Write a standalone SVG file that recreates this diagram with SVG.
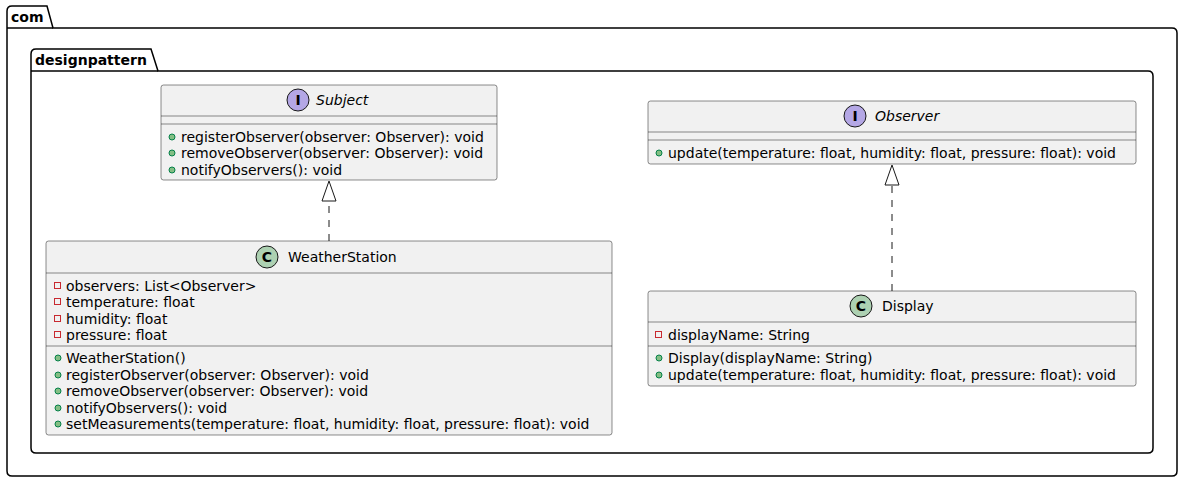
<svg xmlns="http://www.w3.org/2000/svg" width="1183" height="482" viewBox="0 0 1183 482">
<style>
text{font-family:"DejaVu Sans",sans-serif;font-size:14px;fill:#000}
.pk{fill:none;stroke:#000;stroke-width:1.5}
.pt{font-weight:bold;font-size:14px}
.box{fill:#F1F1F1;stroke:#181818;stroke-width:0.5}
.ln{stroke:#181818;stroke-width:0.5}
.ci{stroke:#181818;stroke-width:1}
.ci.i{fill:#B4A7E5}.ci.c{fill:#ADD1B2}
.cl{font-weight:bold;font-size:14px;text-anchor:middle}
.pub{fill:#84BE84;stroke:#038048;stroke-width:1}
.pri{fill:none;stroke:#C82930;stroke-width:1}
.edge{stroke:#181818;stroke-width:1;stroke-dasharray:7,7;fill:none}
.tri{fill:#fff;stroke:#181818;stroke-width:1}
</style>
<g id="pkg-com">
<path class="pk" d="M7,28 V11 Q7,6 12,6 H47 L53,28 H1172 Q1177,28 1177,33 V471 Q1177,476 1172,476 H12 Q7,476 7,471 Z"/>
<line class="pk" x1="7" y1="28" x2="53" y2="28"/>
<text class="pt" x="11" y="22">com</text>
</g>
<g id="pkg-designpattern">
<path class="pk" d="M31,71 V54 Q31,49 36,49 H151 L158,71 H1148 Q1153,71 1153,76 V448 Q1153,453 1148,453 H36 Q31,453 31,448 Z"/>
<line class="pk" x1="31" y1="71" x2="158" y2="71"/>
<text class="pt" x="35" y="65">designpattern</text>
</g>
<g id="Subject">
<rect class="box" x="161" y="85" width="336" height="95" rx="2.5"/>
<circle class="ci i" cx="298" cy="100" r="11"/><text class="cl" x="298" y="105">I</text>
<text x="316" y="105" font-style="italic">Subject</text>
<line class="ln" x1="161" y1="116" x2="497" y2="116"/><line class="ln" x1="161" y1="124" x2="497" y2="124"/>
<circle class="pub" cx="172" cy="137" r="3"/><text x="181" y="142">registerObserver(observer: Observer): void</text>
<circle class="pub" cx="172" cy="153" r="3"/><text x="181" y="158">removeObserver(observer: Observer): void</text>
<circle class="pub" cx="172" cy="170" r="3"/><text x="181" y="175">notifyObservers(): void</text>
</g>
<g id="WeatherStation">
<rect class="box" x="46" y="241" width="566" height="194" rx="2.5"/>
<circle class="ci c" cx="267" cy="257" r="11"/><text class="cl" x="267" y="262">C</text>
<text x="288" y="262">WeatherStation</text>
<line class="ln" x1="46" y1="273" x2="612" y2="273"/>
<rect class="pri" x="54.5" y="282.5" width="6" height="6"/><text x="66" y="291">observers: List&lt;Observer&gt;</text>
<rect class="pri" x="54.5" y="298.5" width="6" height="6"/><text x="66" y="307">temperature: float</text>
<rect class="pri" x="54.5" y="315.5" width="6" height="6"/><text x="66" y="324">humidity: float</text>
<rect class="pri" x="54.5" y="331.5" width="6" height="6"/><text x="66" y="340">pressure: float</text>
<line class="ln" x1="46" y1="346" x2="612" y2="346"/>
<circle class="pub" cx="58" cy="358" r="3"/><text x="66" y="363">WeatherStation()</text>
<circle class="pub" cx="58" cy="375" r="3"/><text x="66" y="380">registerObserver(observer: Observer): void</text>
<circle class="pub" cx="58" cy="391" r="3"/><text x="66" y="396">removeObserver(observer: Observer): void</text>
<circle class="pub" cx="58" cy="408" r="3"/><text x="66" y="413">notifyObservers(): void</text>
<circle class="pub" cx="58" cy="424" r="3"/><text x="66" y="429">setMeasurements(temperature: float, humidity: float, pressure: float): void</text>
</g>
<g id="Observer">
<rect class="box" x="648" y="101" width="488" height="63" rx="2.5"/>
<circle class="ci i" cx="855" cy="116" r="11"/><text class="cl" x="855" y="121">I</text>
<text x="875" y="121" font-style="italic">Observer</text>
<line class="ln" x1="648" y1="132" x2="1136" y2="132"/><line class="ln" x1="648" y1="140" x2="1136" y2="140"/>
<circle class="pub" cx="659" cy="153" r="3"/><text x="668" y="158">update(temperature: float, humidity: float, pressure: float): void</text>
</g>
<g id="Display">
<rect class="box" x="648" y="291" width="488" height="95" rx="2.5"/>
<circle class="ci c" cx="861" cy="306" r="11"/><text class="cl" x="861" y="311">C</text>
<text x="882" y="311">Display</text>
<line class="ln" x1="648" y1="322" x2="1136" y2="322"/>
<rect class="pri" x="655.5" y="331.5" width="6" height="6"/><text x="668" y="340">displayName: String</text>
<line class="ln" x1="648" y1="346" x2="1136" y2="346"/>
<circle class="pub" cx="659" cy="358" r="3"/><text x="668" y="363">Display(displayName: String)</text>
<circle class="pub" cx="659" cy="375" r="3"/><text x="668" y="380">update(temperature: float, humidity: float, pressure: float): void</text>
</g>
<g id="connectors">
<line class="edge" x1="329" y1="241" x2="329" y2="200"/>
<polygon class="tri" points="329,181 322,201 336,201"/>
<line class="edge" x1="892" y1="291" x2="892" y2="184"/>
<polygon class="tri" points="892,165 885,185 899,185"/>
</g>
</svg>
